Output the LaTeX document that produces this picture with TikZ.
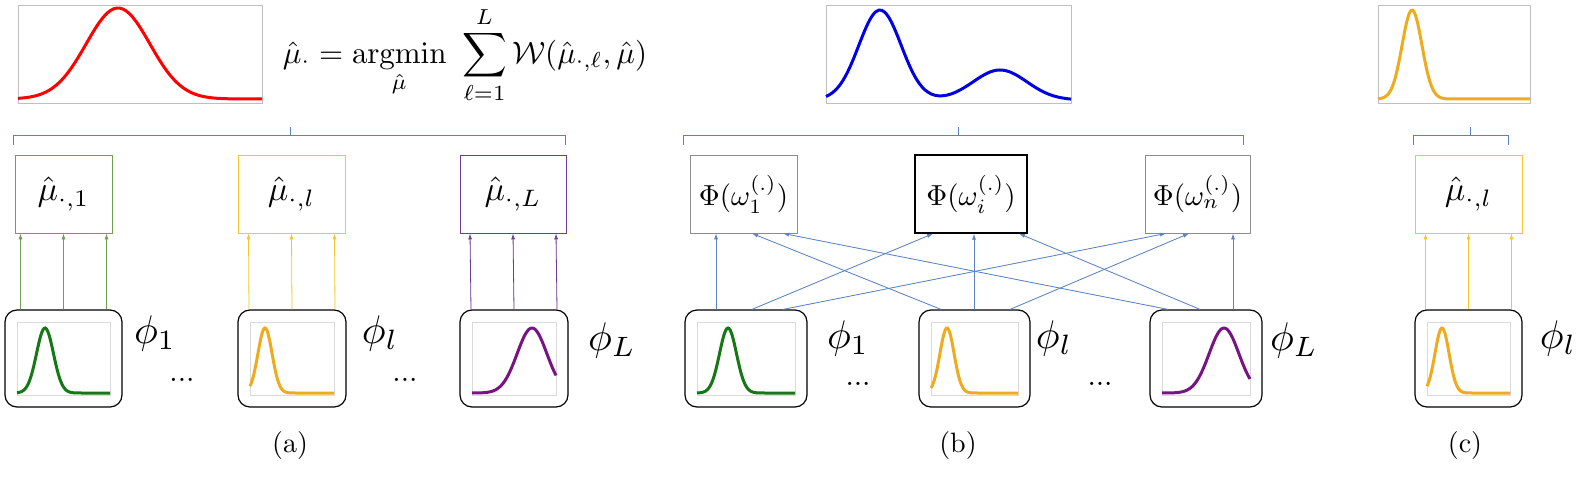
\documentclass[tikz,border=0pt]{standalone}
\usepackage{amsmath}
\usepackage{graphicx}
\usetikzlibrary{arrows.meta}
\definecolor{cgreen}{RGB}{20,120,20}
\definecolor{lgreen}{RGB}{110,160,80}
\definecolor{cyel}{RGB}{240,170,30}
\definecolor{lyel}{RGB}{245,200,40}
\definecolor{cpur}{RGB}{120,20,130}
\definecolor{lpur}{RGB}{110,60,150}
\definecolor{cblue}{RGB}{90,130,195}
\newcommand\Sc[2]{\scalebox{#1}{#2}}
\begin{document}
\begin{tikzpicture}[x=1pt,y=-1pt,
  plotbox/.style={draw=black!25,line width=0.8pt},
  tbox/.style={draw,line width=0.9pt,minimum width=#1,minimum height=78pt,inner sep=0pt},
  bbox/.style={draw=black,line width=1.2pt,rounded corners=12pt,minimum height=97pt,inner sep=0pt},
  curve/.style={line width=3pt,samples=80,smooth},
  arr/.style={-{Latex[length=6pt,width=4pt]},line width=0.8pt},
  brk/.style={draw=cblue,line width=1pt}]
\useasboundingbox (0,0) rectangle (1581,492);
% top plots
\draw[plotbox] (18,5) rectangle (262,103);
\draw[curve,red,domain=18:262] plot (\x,{99-91*exp(-((\x-118)/45)^2)});
\draw[plotbox] (826,5) rectangle (1071,103);
\draw[curve,blue!90!black,domain=826:1071] plot (\x,{100-90*exp(-((\x-880)/30)^2)-30*exp(-((\x-1000)/38)^2)});
\draw[plotbox] (1378,5) rectangle (1530,103);
\draw[curve,cyel,domain=1378:1530] plot (\x,{99-89*exp(-((\x-1412)/14)^2)});
\node (form) at (465,55) {\Sc{3.1}{$\displaystyle\hat\mu_{\cdot}=\operatorname*{argmin}_{\hat\mu}\ \sum_{\ell=1}^{L}\mathcal{W}(\hat\mu_{\cdot,\ell},\hat\mu)$}};
% brackets
\draw[brk] (13,145)--(13,135)--(565,135)--(565,145) (290,135)--(290,127);
\draw[brk] (683,145)--(683,135)--(1243,135)--(1243,145) (958,135)--(958,127);
\draw[brk] (1413,145)--(1413,135)--(1508,135)--(1508,145) (1470,135)--(1470,127);
% top boxes
\node[tbox=97pt,draw=lgreen] (t1) at (63.5,194) {\Sc{3.4}{$\hat\mu_{\cdot,1}$}};
\node[tbox=107pt,draw=lyel] (t2) at (291.5,194) {\Sc{3.4}{$\hat\mu_{\cdot,l}$}};
\node[tbox=106pt,draw=lpur] (t3) at (513,194) {\Sc{3.4}{$\hat\mu_{\cdot,L}$}};
\node[tbox=107pt,draw=black!45] (u1) at (743.5,194) {\Sc{2.9}{$\Phi(\omega_1^{(.)})$}};
\node[tbox=112pt,draw=black,line width=1.3pt] (u2) at (971,194) {\Sc{2.9}{$\Phi(\omega_i^{(.)})$}};
\node[tbox=105pt,draw=black!45] (u3) at (1197.5,194) {\Sc{2.9}{$\Phi(\omega_n^{(.)})$}};
\node[tbox=107pt,draw=lyel] (v1) at (1468.5,194) {\Sc{3.4}{$\hat\mu_{\cdot,l}$}};
% bottom boxes
\newcommand\bb[3]{% name, left, right
  \node[bbox,minimum width={#3-#2}] (#1) at ({(#2+#3)/2},358.5) {};
  \draw[plotbox,draw=black!15] ({#2+12},322) rectangle ({#3-12},395);}
\bb{a1}{5}{122}
\draw[curve,cgreen,domain=17:110] plot (\x,{393-65*exp(-((\x-45)/12)^2)});
\bb{a2}{238}{346}
\draw[curve,cyel,domain=250:334] plot (\x,{393-65*exp(-((\x-265)/10)^2)});
\bb{a3}{460}{568}
\draw[curve,cpur,domain=472:556] plot (\x,{393-65*exp(-((\x-532)/21)^2)});
\bb{b1}{685}{807}
\draw[curve,cgreen,domain=697:795] plot (\x,{393-65*exp(-((\x-728)/12)^2)});
\bb{b2}{919}{1030}
\draw[curve,cyel,domain=931:1018] plot (\x,{393-65*exp(-((\x-947)/10)^2)});
\bb{b3}{1150}{1262}
\draw[curve,cpur,domain=1162:1250] plot (\x,{393-65*exp(-((\x-1224)/21)^2)});
\bb{c1}{1415}{1522}
\draw[curve,cyel,domain=1427:1510] plot (\x,{393-65*exp(-((\x-1442)/10)^2)});
% vertical arrows a, c
\foreach \n/\m/\c in {a1/t1/lgreen,a2/t2/lyel,a3/t3/lpur,c1/v1/lyel}{
  \foreach \dx in {-43,0,43}{
    \draw[arr,draw=\c,fill=\c] ([xshift=\dx pt]\n.north) -- ([xshift=\dx pt]\m.south);}}
% b arrows
\foreach \s/\sx/\t/\tx in {b1/716/u1/716, b1/752/u2/933, b1/783/u3/1166,
   b2/941/u1/752, b2/974/u2/974, b2/1010/u3/1189,
   b3/1168/u1/783, b3/1200/u2/1019, b3/1233/u3/1233}{
  \draw[arr,draw=cblue,fill=cblue] (\s.north -| \sx,0) -- (\t.south -| \tx,0);}
% labels
\node (p1) at (155,333) {\Sc{4.0}{$\phi_1$}};
\node (p2) at (380,333) {\Sc{4.0}{$\phi_l$}};
\node (p3) at (612,340) {\Sc{4.0}{$\phi_L$}};
\node (p4) at (848,338) {\Sc{4.0}{$\phi_1$}};
\node (p5) at (1054,338) {\Sc{4.0}{$\phi_l$}};
\node (p6) at (1294,340) {\Sc{4.0}{$\phi_L$}};
\node (p7) at (1558,338) {\Sc{4.0}{$\phi_l$}};
\foreach \x/\y [count=\i] in {182/380,405/380,858/384,1100/384}
  \node (d\i) at (\x,\y) {\Sc{3}{...}};
\node (ca) at (290,445) {\Sc{2.8}{(a)}};
\node (cb) at (958,445) {\Sc{2.8}{(b)}};
\node (cc) at (1465,445) {\Sc{2.8}{(c)}};
\end{tikzpicture}
\end{document}
